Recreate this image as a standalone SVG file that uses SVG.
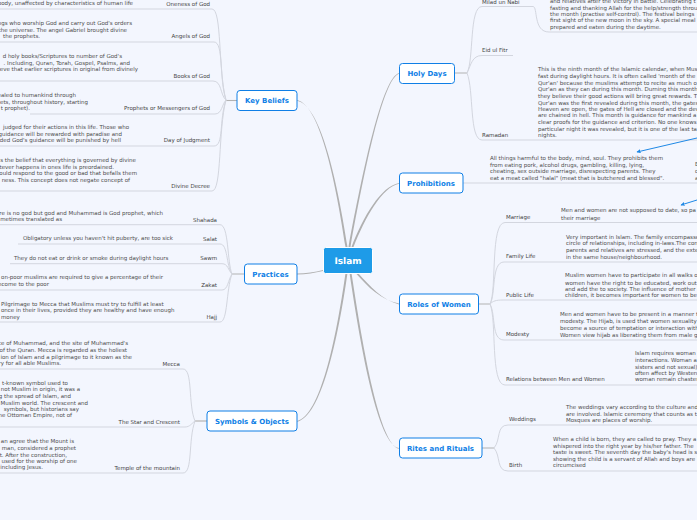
<svg xmlns="http://www.w3.org/2000/svg" width="697" height="520" viewBox="0 0 697 520">
<style>
text{font-family:"DejaVu Sans","Liberation Sans",sans-serif;text-rendering:geometricPrecision}
.t{font-size:5.5px;fill:#4d4d4d}
.l{font-size:5.5px;fill:#444}
.e{text-anchor:end}
.n{font-size:7px;font-weight:700;fill:#0f7fe6;text-anchor:middle}
.b{fill:#fff;stroke:#0f7fe6;stroke-width:1}
.c{fill:none;stroke:#d3d6df;stroke-width:1}
.h{fill:none;stroke:#b2b2b2;stroke-width:1.1}
.r{fill:#b0b0b0;stroke:none}
.a{fill:none;stroke:#1e88e5;stroke-width:1;marker-end:url(#ah)}
</style>
<defs><marker id="ah" markerWidth="5" markerHeight="4" refX="3.500" refY="2" orient="auto" markerUnits="userSpaceOnUse"><path d="M0 0L4 2L0 4z" fill="#1e88e5"/></marker></defs>
<rect width="697" height="520" fill="#f3f6fe"/>
<g id="connectors">
<path class="r" d="M297 100C321 105 337 190 345.500 247L347.500 247C338.500 190 322 105 297 100.800z"/>
<path class="r" d="M399 73C382 78 363 170 348.500 247L350.500 247C364.500 170 383 79 399 73.800z"/>
<path class="r" d="M399 183C381 186 363 217 351.500 247L353.500 247C365 218 382 187 399 183.800z"/>
<path class="r" d="M297 273.600C306 273.600 315 272 323 270L323 271C315 273 306 274.400 297 274.400z"/>
<path class="r" d="M399 303.600C381 300 368 287 356.500 274L358 273C370 286 382 300 399 304.400z"/>
<path class="r" d="M297 421C320 416 336 340 345.500 273L347.500 273C338 340 321 417 297 421.800z"/>
<path class="r" d="M399 448C378 445 361 350 349.500 273L351.500 273C363 350 380 445 399 448.800z"/>
<path class="h" d="M226 100.500H237"/>
<path class="h" d="M455 73H467M232 274H244"/>
<path class="h" d="M479 304H490M482 448H494"/>
<path class="c" d="M195 421H207" style="stroke:#c4c4c4;stroke-width:1.6"/>
<path class="c" d="M463 183H697"/>
<path class="c" d="M0 9H212C222 9 218 70 226 100"/>
<path class="c" d="M0 42H214C224 42 219 80 226 100"/>
<path class="c" d="M0 81H213C222 81 220 95 226 100"/>
<path class="c" d="M30 114H215C222 114 222 104 226 100"/>
<path class="c" d="M0 146H214C224 146 219 120 226 100"/>
<path class="c" d="M0 191H212C222 191 218 130 226 100"/>
<path class="c" d="M0 224.700H220C229 224.700 227 262 232 274"/>
<path class="c" d="M18 244H220C228 244 226 265 232 274"/>
<path class="c" d="M10 263.700H222C228 263.700 228 270 232 274"/>
<path class="c" d="M0 290H222C228 290 228 280 232 274"/>
<path class="c" d="M0 322H220C228 322 226 290 232 274"/>
<path class="c" d="M0 369H183C193 369 188 405 195 421"/>
<path class="c" d="M0 427H185C190 427 192 423 195 421"/>
<path class="c" d="M0 473H183C193 473 188 440 195 421"/>
<path class="c" d="M467 73C474 60 469 6.500 482 6.500H523"/>
<path class="c" d="M467 73C471 65 472 55.500 482 55.500H513"/>
<path class="c" d="M467 73C474 90 469 140 482 140H697"/>
<path class="c" d="M523 6.500H533C538 6.500 533 32 549 32H697"/>
<path class="c" d="M490 304C497 290 490 222.500 505 222.500H697"/>
<path class="c" d="M490 304C496 295 491 262 504 262H697"/>
<path class="c" d="M490 304C493 301 496 300 503 300H697"/>
<path class="c" d="M490 304C496 315 491 340 504 340H697"/>
<path class="c" d="M490 304C497 320 490 385 505 385H697"/>
<path class="c" d="M494 448C501 440 496 425 508 425H697"/>
<path class="c" d="M494 448C501 456 496 471 508 471H697"/>
<path class="a" d="M697 138L637 152"/>
<path class="a" d="M697 200L681 205"/>
</g>
<g id="root"><rect x="323.500" y="247.500" width="49" height="26" rx="2" fill="#1e9be8" stroke="#fff"/><text x="348" y="264" font-size="9" font-weight="700" fill="#fff" text-anchor="middle">Islam</text></g>
<g id="key-beliefs"><rect class="b" x="237" y="90.500" width="60" height="20" rx="3"/><text class="n" x="267" y="103">Key Beliefs</text></g>
<g id="practices"><rect class="b" x="244.500" y="264" width="52.500" height="20" rx="3"/><text class="n" x="270.500" y="277">Practices</text></g>
<g id="symbols"><rect class="b" x="207" y="411" width="90" height="20" rx="3"/><text class="n" x="252" y="424">Symbols &amp; Objects</text></g>
<g id="holy-days"><rect class="b" x="399.500" y="63.500" width="55" height="20" rx="3"/><text class="n" x="427" y="76">Holy Days</text></g>
<g id="prohibitions"><rect class="b" x="399.500" y="173" width="63.500" height="20" rx="3"/><text class="n" x="431" y="186">Prohibitions</text></g>
<g id="roles"><rect class="b" x="399.500" y="294" width="79" height="20" rx="3"/><text class="n" x="439" y="307">Roles of Women</text></g>
<g id="rites"><rect class="b" x="399.500" y="438" width="82.500" height="20" rx="3"/><text class="n" x="440.500" y="451">Rites and Rituals</text></g>
<g id="leaves-key-beliefs">
<text class="t e" x="133" y="5">body, unaffected by characteristics of human life</text>
<text class="l e" x="210" y="5.500">Oneness of God</text>
<text class="t e" x="132" y="25">ngs who worship God and carry out God's orders</text>
<text class="t e" x="127" y="32">the universe. The angel Gabriel brought divine</text>
<text class="t e" x="40" y="38">the prophets.</text>
<text class="l e" x="210" y="38">Angels of God</text>
<text class="t e" x="122" y="58">d holy books/Scriptures to number of God's</text>
<text class="t e" x="130" y="65">. Including, Quran, Torah, Gospel, Psalms, and</text>
<text class="t e" x="138" y="71">eve that earlier scriptures in original from divinely</text>
<text class="l e" x="210" y="78">Books of God</text>
<text class="t e" x="76" y="97">ealed to humankind through</text>
<text class="t e" x="88" y="103.500">ets, throughout history, starting</text>
<text class="t e" x="30" y="110">t prophet).</text>
<text class="l e" x="210" y="110">Prophets or Messengers of God</text>
<text class="t e" x="129" y="129">judged for their actions in this life. Those who</text>
<text class="t e" x="122" y="136">guidance will be rewarded with paradise and</text>
<text class="t e" x="121" y="142">ded God's guidance will be punished by hell</text>
<text class="l e" x="210" y="142">Day of Judgment</text>
<text class="t e" x="136" y="162">s the belief that everything is governed by divine</text>
<text class="t e" x="114" y="169">tever happens in ones life is preordained.</text>
<text class="t e" x="137" y="175">ould respond to the good or bad that befalls them</text>
<text class="t e" x="130" y="182">ness. This concept does not negate concept of</text>
<text class="l e" x="210" y="188">Divine Decree</text>
</g>
<g id="leaves-practices">
<text class="t e" x="163" y="215">re is no god but god and Muhammad is God prophet, which</text>
<text class="t e" x="62" y="221">metimes translated as</text>
<text class="l e" x="217" y="221.500">Shahada</text>
<text class="t" x="23" y="240">Obligatory unless you haven't hit puberty, are too sick</text>
<text class="l e" x="217" y="240.500">Salat</text>
<text class="t" x="14" y="260">They do not eat or drink or smoke during daylight hours</text>
<text class="l e" x="217" y="260">Sawm</text>
<text class="t e" x="163" y="279">on-poor muslims are required to give a percentage of their</text>
<text class="t e" x="49" y="286">ncome to the poor</text>
<text class="l e" x="217" y="286.500">Zakat</text>
<text class="t" x="1" y="306">Pilgrimage to Mecca that Muslims must try to fulfill at least</text>
<text class="t" x="1" y="312">once in their lives, provided they are healthy and have enough</text>
<text class="t" x="1" y="319">money</text>
<text class="l e" x="217" y="318.500">Hajj</text>
</g>
<g id="leaves-symbols">
<text class="t e" x="128" y="345">ce of Muhammad, and the site of Muhammad's</text>
<text class="t e" x="127" y="352">of the Quran. Mecca is regarded as the holiest</text>
<text class="t e" x="132" y="359">ion of Islam and a pilgrimage to it known as the</text>
<text class="t e" x="61" y="365">ry for all able Muslims.</text>
<text class="l e" x="180" y="365.500">Mecca</text>
<text class="t e" x="68" y="385">t-known symbol used to</text>
<text class="t e" x="80" y="391">not Muslim in origin, it was a</text>
<text class="t e" x="71" y="398">g the spread of Islam, and</text>
<text class="t e" x="88" y="405">Muslim world. The crescent and</text>
<text class="t e" x="79" y="411">symbols, but historians say</text>
<text class="t e" x="72" y="417">he Ottoman Empire, not of</text>
<text class="l e" x="180" y="423.500">The Star and Crescent</text>
<text class="t e" x="74" y="443">an agree that the Mount is</text>
<text class="t e" x="76" y="450">man, considered a prophet</text>
<text class="t e" x="67" y="457">t. After the construction,</text>
<text class="t e" x="77" y="463">used for the worship of one</text>
<text class="t e" x="43" y="469">including Jesus.</text>
<text class="l e" x="180" y="469.500">Temple of the mountain</text>
</g>
<g id="leaves-holy-days">
<text class="l" x="482" y="3.500">Milad un Nabi</text>
<text class="t" x="550" y="3">and relatives after the victory in battle. Celebrating t</text>
<text class="t" x="550" y="10">fasting and thanking Allah for the help/strength throu</text>
<text class="t" x="550" y="16">the month (practise self-control). The festival beings</text>
<text class="t" x="550" y="22">first sight of the new moon in the sky. A special meal</text>
<text class="t" x="550" y="29">prepared and eaten during the daytime.</text>
<text class="l" x="482" y="52">Eid ul Fitr</text>
<text class="t" x="538" y="71">This is the ninth month of the Islamic calendar, when Mus</text>
<text class="t" x="538" y="78">fast during daylight hours. It is often called 'month of the</text>
<text class="t" x="538" y="85">Qur'an' because the muslims attempt to recite as much o</text>
<text class="t" x="538" y="91">Qur'an as they can during this month. Durning this month</text>
<text class="t" x="538" y="98">they believe their good actions will bring great rewards. T</text>
<text class="t" x="538" y="105">Qur'an was the first revealed during this month, the gates</text>
<text class="t" x="538" y="111">Heaven are open, the gates of Hell are closed and the dev</text>
<text class="t" x="538" y="117">are chained in hell. This month is guidance for mankind a</text>
<text class="t" x="538" y="124">clear proofs for the guidance and criterion. No one knows</text>
<text class="t" x="538" y="131">particular night it was revealed, but it is one of the last ta</text>
<text class="t" x="538" y="137">nights.</text>
<text class="l" x="482" y="136.500">Ramadan</text>
</g>
<g id="leaves-prohibitions">
<text class="t" x="490" y="160">All things harmful to the body, mind, soul. They prohibits them</text>
<text class="t" x="490" y="167">from eating pork, alcohol drugs, gambling, killing, lying,</text>
<text class="t" x="490" y="173">cheating, sex outside marriage, disrespecting parents. They</text>
<text class="t" x="490" y="180">eat a meat called "halal" (meat that is butchered and blessed".</text>
<text class="t" x="695" y="166">B</text>
<text class="t" x="695" y="173">c</text>
<text class="t" x="695" y="180">a</text>
</g>
<g id="leaves-roles">
<text class="t" x="561" y="212">Men and women are not supposed to date, so pa</text>
<text class="t" x="561" y="220">their marriage</text>
<text class="l" x="506" y="219">Marriage</text>
<text class="t" x="566" y="239">Very important in Islam. The family encompasse</text>
<text class="t" x="566" y="245">circle of relationships, including in-laws.The con</text>
<text class="t" x="566" y="252">parents and relatives are stressed, and the exte</text>
<text class="t" x="566" y="259">in the same house/neighbourhood.</text>
<text class="l" x="506" y="258">Family Life</text>
<text class="t" x="565" y="277">Muslim women have to participate in all walks o</text>
<text class="t" x="565" y="285">women have the right to be educated, work out</text>
<text class="t" x="565" y="291">and add the to society. The influence of mother</text>
<text class="t" x="565" y="297">children, it becomes important for women to be</text>
<text class="l" x="506" y="297">Public Life</text>
<text class="t" x="560" y="316">Men and women have to be present in a manner t</text>
<text class="t" x="560" y="323">modesty. The Hijab, is used that women sexuality</text>
<text class="t" x="560" y="330">become a source of temptation or interaction with</text>
<text class="t" x="560" y="337">Women view hijab as liberating them from male g</text>
<text class="l" x="506" y="336">Modesty</text>
<text class="t" x="635" y="355">Islam requires woman</text>
<text class="t" x="635" y="362">interactions. Woman a</text>
<text class="t" x="635" y="369">sisters and not sexual)</text>
<text class="t" x="635" y="375">often affect by Westen</text>
<text class="t" x="635" y="381">woman remain chaster</text>
<text class="l" x="506" y="381">Relations between Men and Women</text>
</g>
<g id="leaves-rites">
<text class="t" x="566" y="409">The weddings vary according to the culture and</text>
<text class="t" x="566" y="416">are involved. Islamic ceremony that counts as t</text>
<text class="t" x="566" y="422">Mosques are places of worship.</text>
<text class="l" x="509" y="421">Weddings</text>
<text class="t" x="553" y="441">When a child is born, they are called to pray. They a</text>
<text class="t" x="553" y="448">whispered into the right year by his/her father. The</text>
<text class="t" x="553" y="454">taste is sweet. The seventh day the baby's head is s</text>
<text class="t" x="553" y="461">showing the child is a servant of Allah and boys are</text>
<text class="t" x="553" y="467">circumcised</text>
<text class="l" x="509" y="467">Birth</text>
</g>
</svg>
